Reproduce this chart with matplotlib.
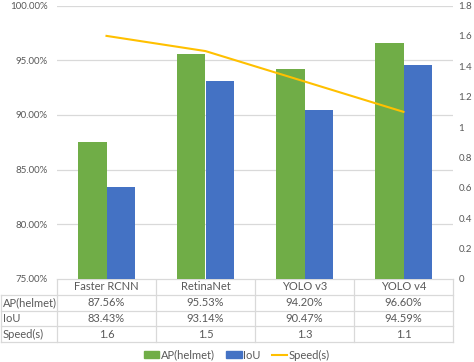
import numpy as np
import matplotlib.pyplot as plt
from matplotlib.patches import Patch
from matplotlib.lines import Line2D

plt.rcParams['font.family'] = ['Lato', 'DejaVu Sans']

models = ["Faster RCNN", "RetinaNet", "YOLO v3", "YOLO v4"]
ap_helmet = [87.56, 95.53, 94.20, 96.60]
iou = [83.43, 93.14, 90.47, 94.59]
speed = [1.6, 1.5, 1.3, 1.1]
row_names = ["AP(helmet)", "IoU", "Speed(s)"]

green = '#70AD47'
blue = '#4472C4'
yellow = '#FFC000'
grid_c = '#D9D9D9'
txt_c = '#595959'

W, H = 474, 362
fig = plt.figure(figsize=(W / 100, H / 100), dpi=100)
L, R, T, B = 57, 453, 5.5, 279
ax = fig.add_axes([L / W, 1 - B / H, (R - L) / W, (B - T) / H])

x = np.arange(len(models))
bw = 0.286
ax.bar(x - bw / 2, ap_helmet, bw, color=green, zorder=2)
ax.bar(x + bw / 2, iou, bw, color=blue, zorder=2)
ax.set_xlim(-0.5, len(models) - 0.5)
ax.set_ylim(75, 100)
ax.set_yticks(np.arange(75, 100.1, 5))
ax.yaxis.set_major_formatter(lambda v, p: f"{v:.2f}%")
ax.yaxis.grid(True, color=grid_c, lw=0.9)
ax.set_axisbelow(True)
ax.set_xticks([])
ax.tick_params(axis='y', length=0, labelsize=7, labelcolor=txt_c, pad=6.5)
for s in ax.spines.values():
    s.set_visible(False)

ax2 = ax.twinx()
ax2.plot(x, speed, color=yellow, lw=1.5, zorder=3)
ax2.set_ylim(0, 1.8)
ax2.set_yticks(np.arange(0, 1.81, 0.2))
ax2.yaxis.set_major_formatter(lambda v, p: f"{round(v, 1):g}")
ax2.tick_params(axis='y', length=0, labelsize=7, labelcolor=txt_c, pad=4)
for s in ax2.spines.values():
    s.set_visible(False)

# data table under the plot
ov = fig.add_axes([0, 0, 1, 1], zorder=-1)
ov.set_xlim(0, W)
ov.set_ylim(H, 0)
ov.axis('off')
cw = (R - L) / len(models)
cols = [L + i * cw for i in range(len(models) + 1)]
rows = [B, 295, 310.7, 326.3, 342]
lw = 0.9
ov.plot([L, R], [B, B], color=grid_c, lw=lw)
for y in rows[1:]:
    ov.plot([0.5, R], [y, y], color=grid_c, lw=lw)
for c in cols:
    ov.plot([c, c], [B, rows[-1]], color=grid_c, lw=lw)
ov.plot([0.5, 0.5], [rows[1], rows[-1]], color=grid_c, lw=lw)

fs = 8
for i, m in enumerate(models):
    ov.text(cols[i] + cw / 2, (rows[0] + rows[1]) / 2, m, ha='center', va='center', fontsize=fs, color=txt_c)
table_vals = [[f"{v:.2f}%" for v in ap_helmet],
              [f"{v:.2f}%" for v in iou],
              [f"{v:g}" for v in speed]]
for r, name in enumerate(row_names):
    yc = (rows[r + 1] + rows[r + 2]) / 2
    ov.text(3, yc, name, ha='left', va='center', fontsize=fs, color=txt_c)
    for i, v in enumerate(table_vals[r]):
        ov.text(cols[i] + cw / 2, yc, v, ha='center', va='center', fontsize=fs, color=txt_c)

handles = [Patch(color=green, label=row_names[0]),
           Patch(color=blue, label=row_names[1]),
           Line2D([], [], color=yellow, lw=1.5, label=row_names[2])]
fig.legend(handles=handles, loc='center', bbox_to_anchor=(0.5, 1 - 355 / H), ncol=3,
           frameon=False, fontsize=fs, handlelength=1.4, handleheight=0.5,
           handletextpad=0.15, columnspacing=1.0, labelcolor=txt_c,
           borderpad=0.2)

fig.savefig('out.png', dpi=100)
